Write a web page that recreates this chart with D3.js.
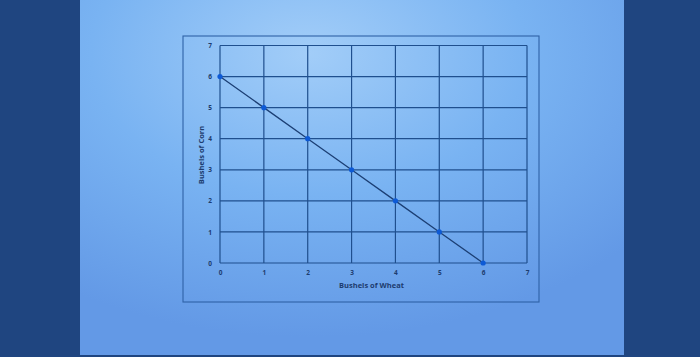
<!DOCTYPE html>
<html>
<head>
<meta charset="utf-8">
<script src="https://cdn.jsdelivr.net/npm/d3@7"></script>
<style>
	html, body { margin: 0; padding: 0; background: #1f4580; }
	svg { display: block; }
</style>
</head>
<body>
<script>
/******************/
/*     data       */
/******************/
var wheat = [0, 1, 2, 3, 4, 5, 6];
var corn = [6, 5, 4, 3, 2, 1, 0];
var xTicks = [0, 1, 2, 3, 4, 5, 6, 7];
var yTicks = [0, 1, 2, 3, 4, 5, 6, 7];
var xTitle = "Bushels of Wheat";
var yTitle = "Bushels of Corn";

var W = 700, H = 357;
var plot = {left: 220, right: 527, top: 45.5, bottom: 263};

var svg = d3.select("body").append("svg")
	.attr("width", W)
	.attr("height", H);

//screen glow
var defs = svg.append("defs");
var grad = defs.append("radialGradient")
	.attr("id", "glow")
	.attr("cx", "42%").attr("cy", "15%").attr("r", "80%");
grad.append("stop").attr("offset", "0%").attr("stop-color", "#a2cdf8");
grad.append("stop").attr("offset", "50%").attr("stop-color", "#79b3f2");
grad.append("stop").attr("offset", "100%").attr("stop-color", "#6399e6");

svg.append("rect").attr("width", W).attr("height", H).attr("fill", "#1f4580");
svg.append("rect")
	.attr("x", 80).attr("y", 0)
	.attr("width", 544).attr("height", 355)
	.attr("fill", "url(#glow)");

//outer frame of the figure
svg.append("rect")
	.attr("x", 183).attr("y", 36)
	.attr("width", 356).attr("height", 266)
	.attr("fill", "none")
	.attr("stroke", "#2f62a6")
	.attr("stroke-width", 1.1);

var x = d3.scaleLinear().domain([0, 7]).range([plot.left, plot.right]);
var y = d3.scaleLinear().domain([0, 7]).range([plot.bottom, plot.top]);

var gridColor = "#1f4f8e";
//grid
svg.append("g")
	.selectAll("line.v")
	.data(xTicks)
	.enter()
	.append("line")
	.attr("x1", function(d) {return x(d);})
	.attr("x2", function(d) {return x(d);})
	.attr("y1", y(0))
	.attr("y2", y(7))
	.attr("stroke", gridColor)
	.attr("stroke-width", 1.2);
svg.append("g")
	.selectAll("line.h")
	.data(yTicks)
	.enter()
	.append("line")
	.attr("x1", x(0))
	.attr("x2", x(7))
	.attr("y1", function(d) {return y(d);})
	.attr("y2", function(d) {return y(d);})
	.attr("stroke", gridColor)
	.attr("stroke-width", 1.2);

//axes labels (no tick marks)
var xAxis = d3.axisBottom(x).tickValues(xTicks).tickFormat(d3.format("d")).tickSize(0).tickPadding(7);
var yAxis = d3.axisLeft(y).tickValues(yTicks).tickFormat(d3.format("d")).tickSize(0).tickPadding(8);

var gx = svg.append("g")
	.attr("transform", "translate(0," + y(0) + ")")
	.call(xAxis);
var gy = svg.append("g")
	.attr("transform", "translate(" + x(0) + ",0)")
	.call(yAxis);
[gx, gy].forEach(function(g) {
	g.select(".domain").remove();
	g.selectAll("text")
		.attr("fill", "#1d3c6e")
		.attr("font-family", "Open Sans, sans-serif")
		.attr("font-weight", "bold")
		.attr("font-size", 6.5);
});

svg.append("text")
	.attr("x", (x(0) + x(7)) / 2 - 2)
	.attr("y", 288)
	.attr("text-anchor", "middle")
	.attr("fill", "#1d3c6e")
	.attr("font-family", "Open Sans, sans-serif")
	.attr("font-weight", "bold")
	.attr("font-size", 7.5)
	.text(xTitle);

svg.append("text")
	.attr("transform", "translate(204," + 155 + ") rotate(-90)")
	.attr("text-anchor", "middle")
	.attr("fill", "#1d3c6e")
	.attr("font-family", "Open Sans, sans-serif")
	.attr("font-weight", "bold")
	.attr("font-size", 7.5)
	.text(yTitle);

//the line
var line = d3.line()
	.x(function(d, i) {return x(wheat[i]);})
	.y(function(d) {return y(d);});
svg.append("path")
	.datum(corn)
	.attr("d", line)
	.attr("fill", "none")
	.attr("stroke", "#1c3f74")
	.attr("stroke-width", 1.3);

svg.append("g")
	.selectAll("circle")
	.data(corn)
	.enter()
	.append("circle")
	.attr("cx", function(d, i) {return x(wheat[i]);})
	.attr("cy", function(d) {return y(d);})
	.attr("r", 2.6)
	.attr("fill", "#0d5ad6");
</script>
</body>
</html>
